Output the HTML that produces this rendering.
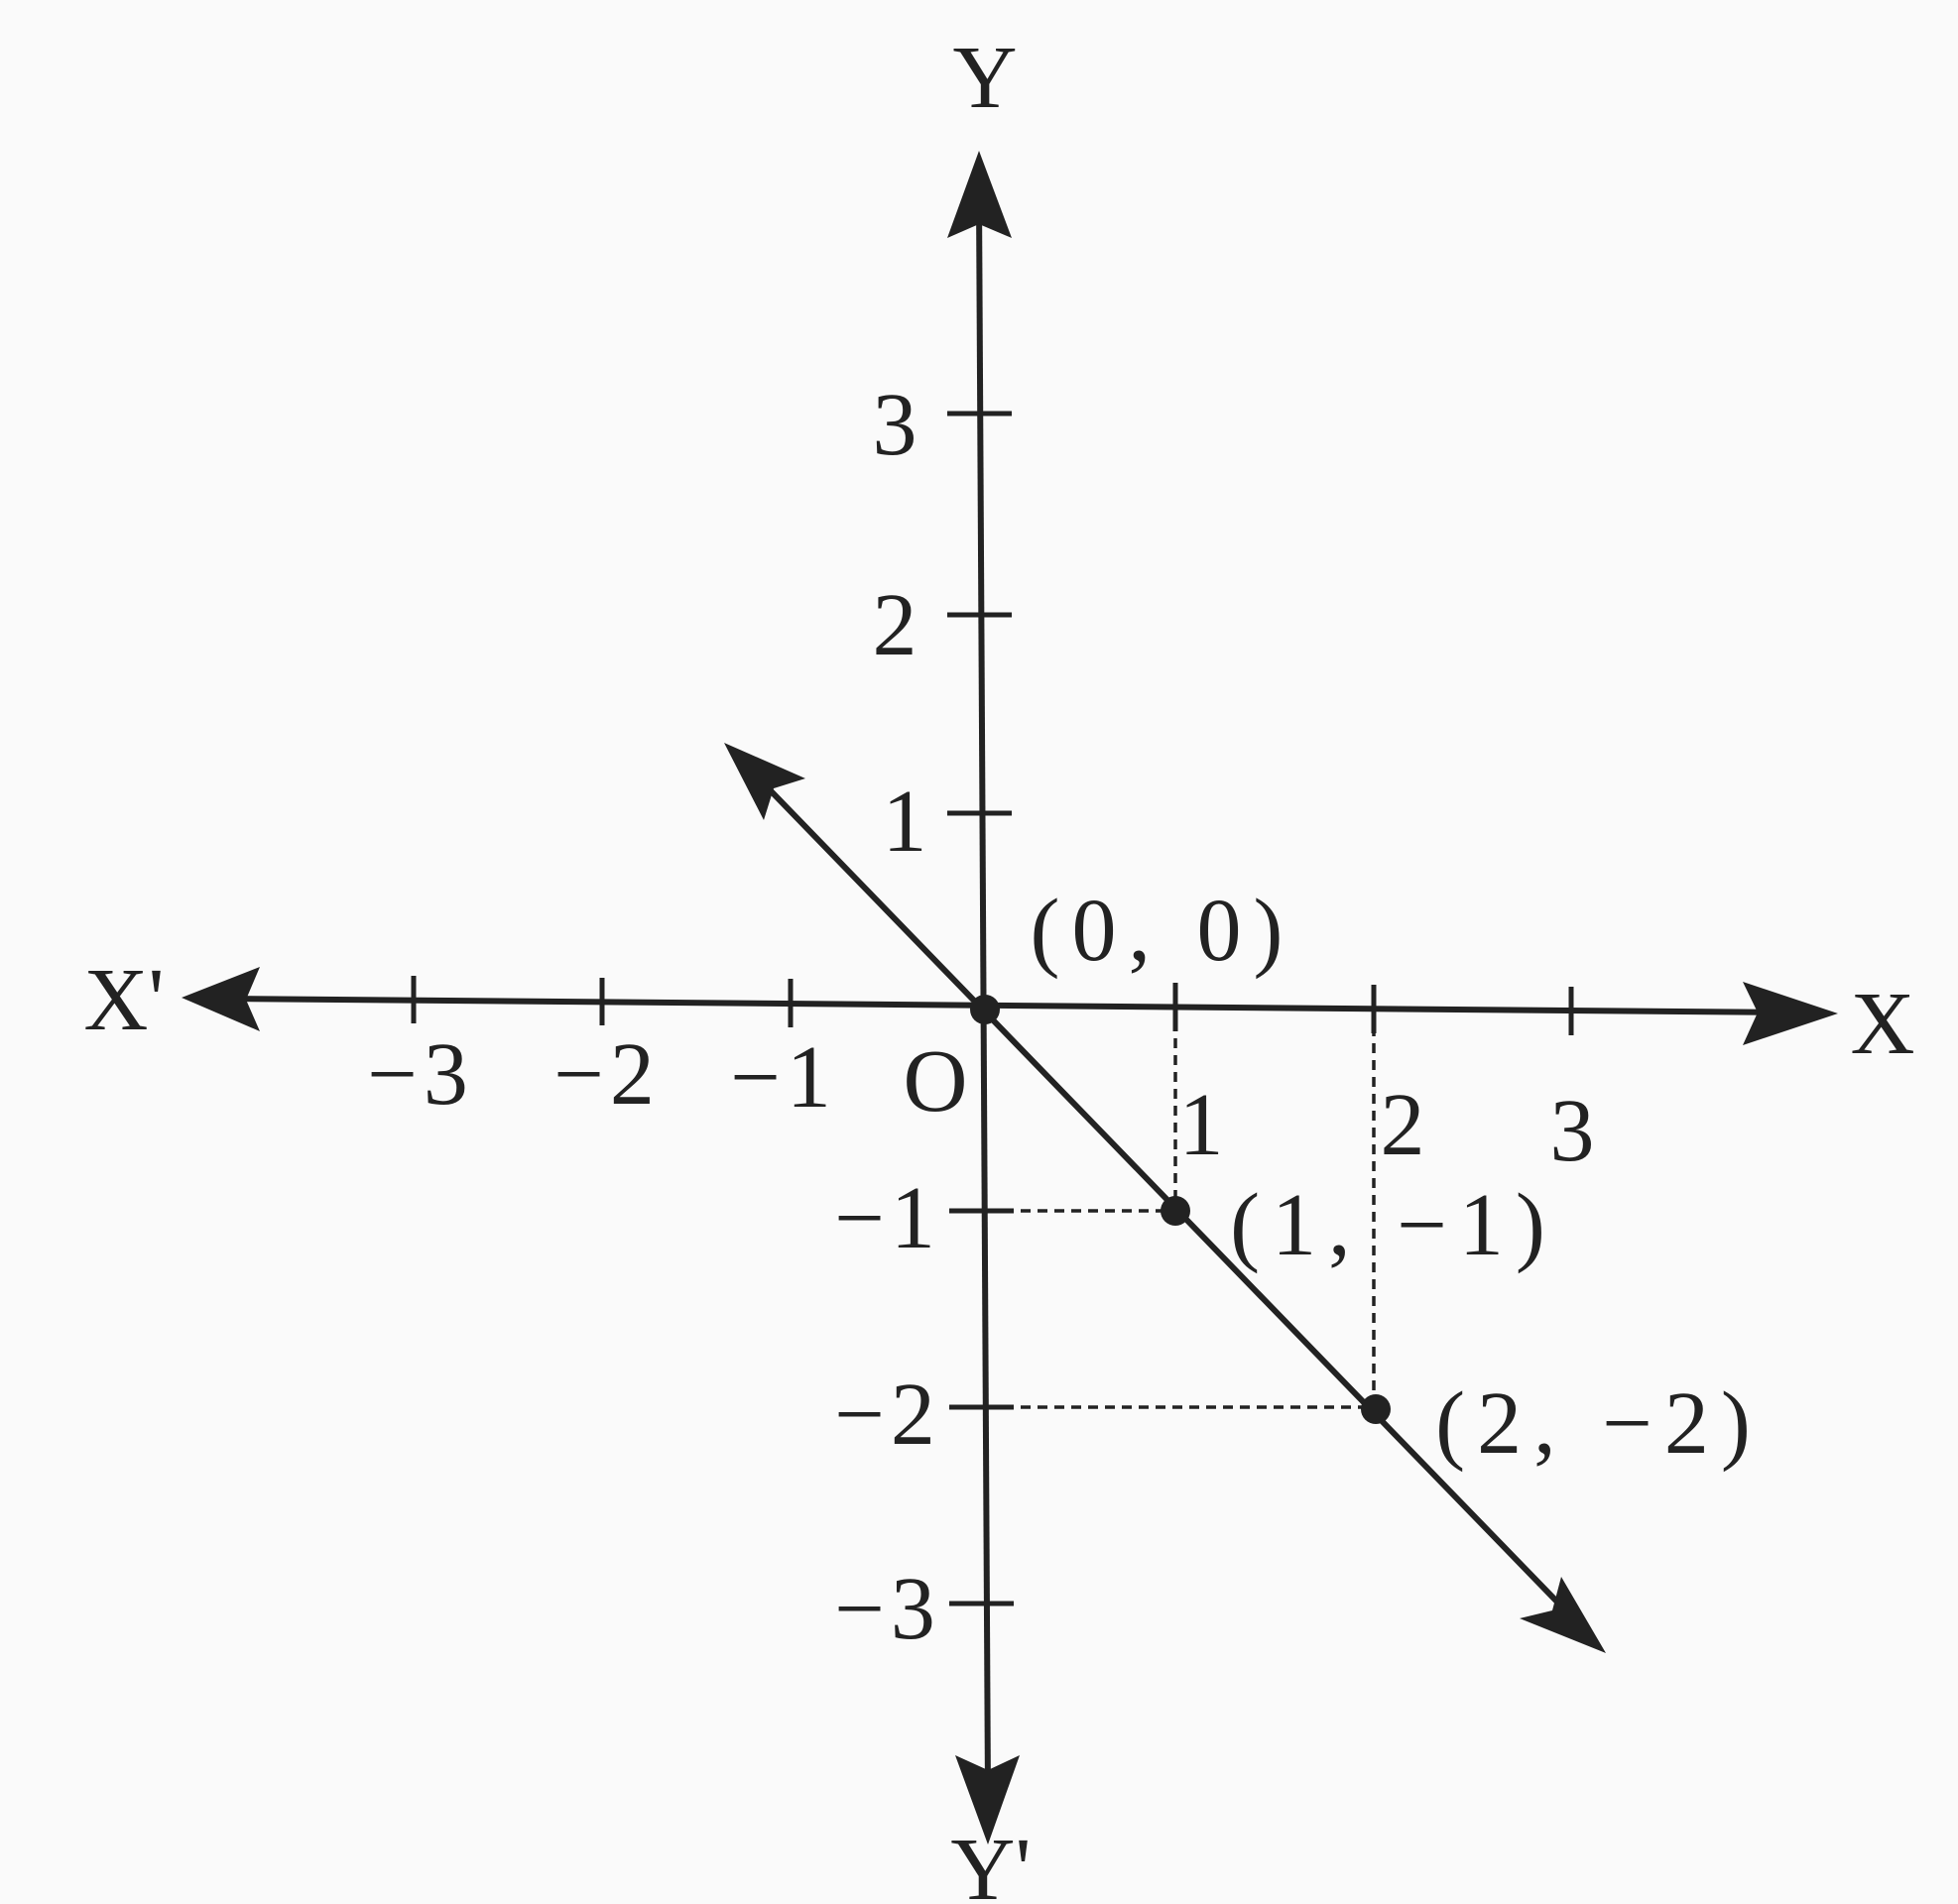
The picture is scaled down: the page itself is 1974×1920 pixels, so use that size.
<!DOCTYPE html>
<html><head><style>body{margin:0;background:#fafafa}svg{display:block}</style></head><body>
<svg width="1974" height="1920" viewBox="0 0 1974 1920" xmlns="http://www.w3.org/2000/svg">
<rect width="1974" height="1920" fill="#fafafa"/>
<g stroke="#222" stroke-width="6" fill="none">
<line x1="230" y1="1007" x2="1810" y2="1021"/>
<line x1="987" y1="200" x2="996" y2="1810"/>
<line x1="760" y1="780" x2="1590" y2="1636"/>
<g stroke-width="5">
<line x1="417" y1="984" x2="417" y2="1032"/><line x1="607" y1="986" x2="607" y2="1034"/><line x1="797" y1="987" x2="797" y2="1036"/>
<line x1="1185" y1="991" x2="1185" y2="1040"/><line x1="1385" y1="993" x2="1385" y2="1042"/><line x1="1584" y1="995" x2="1584" y2="1044"/>
<line x1="955" y1="417" x2="1020" y2="417"/><line x1="955" y1="620" x2="1020" y2="620"/><line x1="955" y1="820" x2="1020" y2="820"/>
<line x1="957" y1="1221" x2="1022" y2="1221"/><line x1="957" y1="1419" x2="1022" y2="1419"/><line x1="957" y1="1617" x2="1022" y2="1617"/>
</g>
<g stroke-width="3.5" stroke-dasharray="10,7">
<line x1="1185" y1="1030" x2="1185" y2="1221"/><line x1="1385" y1="1035" x2="1385" y2="1419"/>
<line x1="995" y1="1221" x2="1185" y2="1221"/><line x1="995" y1="1419" x2="1385" y2="1419"/>
</g>
</g>
<g fill="#222">
<polygon points="183,1006 262,975 248,1008 262,1040"/>
<polygon points="1853,1022 1757,990 1772,1021 1757,1054"/>
<polygon points="987,152 955,240 987,226 1020,240"/>
<polygon points="996,1860 963,1770 996,1785 1028,1770"/>
<polygon points="730,749 812,785 780,795 770,827"/>
<polygon points="1619,1667 1532,1632 1565,1624 1574,1590"/>
<circle cx="993" cy="1018" r="15"/><circle cx="1185" cy="1221" r="15"/><circle cx="1387" cy="1421" r="15"/>
</g>
<g font-family="Liberation Serif, serif" font-size="90" fill="#222" text-anchor="middle">
<text x="993" y="108">Y</text>
<text x="1898" y="1062">X</text>
<text x="125" y="1038">X'</text>
<text x="999" y="1915">Y'</text>
<g letter-spacing="6">
<text x="905" y="458">3</text><text x="905" y="660">2</text><text x="915" y="858">1</text>
<text x="895" y="1258">−1</text><text x="895" y="1456">−2</text><text x="895" y="1652">−3</text>
<text x="424" y="1113">−3</text><text x="612" y="1113">−2</text><text x="790" y="1116">−1</text>
<text x="946" y="1120">O</text>
<text x="1214" y="1164">1</text><text x="1417" y="1164">2</text><text x="1588" y="1170">3</text>
</g>
<g letter-spacing="12">
<text x="1172" y="968">(0, 0)</text>
<text x="1405" y="1265">(1, −1)</text>
<text x="1612" y="1465">(2, −2)</text>
</g>
</g>
</svg>
</body></html>
